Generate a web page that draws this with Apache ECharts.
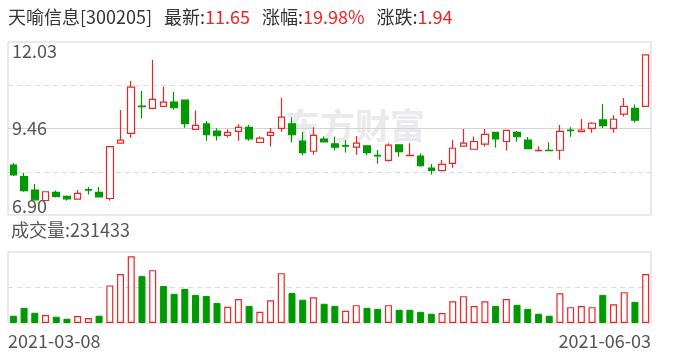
<!DOCTYPE html>
<html>
<head>
<meta charset="utf-8">
<script src="https://cdn.jsdelivr.net/npm/echarts@6/dist/echarts.min.js"></script>
<style>
html,body{margin:0;padding:0;background:#fff;}
#c{width:688px;height:360px;}
</style>
</head>
<body>
<div id="c"></div>
<script>
var stockName = '天喻信息';
var stockCode = '300205';

var dates = [
  '2021-03-08','2021-03-09','2021-03-10','2021-03-11','2021-03-12','2021-03-15','2021-03-16','2021-03-17','2021-03-18','2021-03-19',
  '2021-03-22','2021-03-23','2021-03-24','2021-03-25','2021-03-26','2021-03-29','2021-03-30','2021-03-31','2021-04-01','2021-04-02',
  '2021-04-06','2021-04-07','2021-04-08','2021-04-09','2021-04-12','2021-04-13','2021-04-14','2021-04-15','2021-04-16','2021-04-19',
  '2021-04-20','2021-04-21','2021-04-22','2021-04-23','2021-04-26','2021-04-27','2021-04-28','2021-04-29','2021-04-30','2021-05-06',
  '2021-05-07','2021-05-10','2021-05-11','2021-05-12','2021-05-13','2021-05-14','2021-05-17','2021-05-18','2021-05-19','2021-05-20',
  '2021-05-21','2021-05-24','2021-05-25','2021-05-26','2021-05-27','2021-05-28','2021-05-31','2021-06-01','2021-06-02','2021-06-03'
];

var opens  = [8.38,8.04,7.64,7.33,7.57,7.45,7.37,7.65,7.57,7.39, 9.03,9.32,10.13,10.06,10.12,10.25,10.31,9.44,9.60,9.39,
              9.26,9.38,9.50,9.05,9.26,9.47,9.60,9.09,8.79,9.15, 9.01,8.96,8.91,8.95,8.67,8.52,8.98,8.66,8.65,8.29,
              8.22,8.43,8.94,8.85,9.00,9.35,9.08,9.35,9.12,8.81, 8.82,8.82,9.42,9.37,9.47,9.72,9.47,9.89,10.06,10.12];
var closes = [8.09,7.62,7.35,7.59,7.45,7.38,7.54,7.64,7.44,8.93, 9.12,10.69,10.11,10.33,10.25,10.08,9.61,9.56,9.28,9.25,
              9.35,9.50,9.16,9.18,9.35,9.80,9.28,8.75,9.26,9.07, 8.91,8.94,9.03,8.75,8.65,8.97,8.78,8.67,8.36,8.22,
              8.40,8.88,9.03,9.08,9.29,9.16,9.41,9.22,8.87,8.82, 8.81,9.38,9.40,9.42,9.62,9.55,9.74,10.12,9.71,11.65];
var lows   = [8.06,7.59,7.33,7.33,7.42,7.33,7.37,7.51,7.44,7.33, 9.03,9.19,9.76,10.06,10.12,10.02,9.49,9.44,9.10,9.11,
              9.20,9.10,9.10,9.05,8.93,9.37,9.05,8.67,8.69,9.05, 8.81,8.75,8.69,8.67,8.42,8.49,8.63,8.66,8.33,8.10,
              8.19,8.30,8.94,8.85,8.93,8.90,8.81,9.07,8.87,8.78, 8.81,8.54,9.22,9.37,9.34,9.48,9.34,9.82,9.64,10.12];
var highs  = [8.44,8.15,7.82,7.59,7.63,7.48,7.64,7.73,7.73,8.93, 10.01,10.87,10.58,11.50,10.70,10.55,10.31,10.00,9.69,9.47,
              9.44,9.59,9.57,9.23,9.48,10.37,9.80,9.36,9.50,9.23, 9.23,9.12,9.24,8.97,8.83,9.03,8.98,9.03,8.72,8.41,
              8.53,9.12,9.45,9.23,9.45,9.35,9.41,9.39,9.21,8.94, 9.06,9.57,9.50,9.75,9.65,10.19,9.86,10.37,10.18,11.65];

var volumes = [34400,72000,48500,37600,29700,20300,32900,23500,34400,178000,
               232000,316000,222000,250000,175000,138000,161000,133000,128000,95000,
               77000,113000,81000,53000,108000,236000,142000,110000,122000,91000,
               81000,58000,84500,72000,67000,84500,62600,62600,53000,43800,
               47000,103000,127000,80000,103000,81000,113000,86000,67000,43800,
               34400,141000,75000,80000,75000,133000,89000,146000,100000,231433];

var priceMin = 6.90, priceMax = 12.03;
var priceLabelValues = [6.90, 9.465, 12.03];
var priceLabelTexts = ['6.90', '9.46', '12.03'];
var priceDashedLines = [8.1825, 10.7475];
var priceSolidLines = [9.465];
var volumeMax = 336000;
var volumeGridLines = [168000];

var RED = '#f02424', GREEN = '#009a00';
var FONT = '"Noto Sans CJK SC", "Microsoft YaHei", sans-serif';

var n = dates.length;
var kData = [];
for (var i = 0; i < n; i++) kData.push([opens[i], closes[i], lows[i], highs[i]]);

var volData = volumes.map(function (v, i) {
  var prev = i > 0 ? closes[i - 1] : opens[i];
  var up = closes[i] > prev;
  return {
    value: v,
    itemStyle: up ? { color: '#fff', borderColor: RED, borderWidth: 1.2 }
                  : { color: GREEN, borderColor: GREEN, borderWidth: 1 }
  };
});

var last = closes[n - 1], prevClose = closes[n - 2];
var chg = last - prevClose;
var pct = chg / prevClose * 100;

var chart = echarts.init(document.getElementById('c'), null, { renderer: 'canvas' });

var option = {
  animation: false,
  backgroundColor: '#fff',
  textStyle: { fontFamily: FONT },
  title: [
    {
      left: 8, top: 8, padding: 0,
      text: '{k|' + stockName + '[' + stockCode + ']}{s|}{k|最新:}{r|' + last.toFixed(2) + '}{s|}{k|涨幅:}{r|' + pct.toFixed(2) + '%}{s|}{k|涨跌:}{r|' + chg.toFixed(2) + '}',
      textStyle: {
        fontWeight: 'normal', fontSize: 18,
        rich: {
          k: { fontSize: 18, color: '#333', fontWeight: 'normal', fontFamily: FONT },
          r: { fontSize: 18, color: RED, fontWeight: 'normal', fontFamily: FONT },
          s: { width: 12 }
        }
      }
    },
    {
      left: 11, top: 221, padding: 0,
      text: '成交量:' + volumes[n - 1],
      textStyle: { fontSize: 18, color: '#555', fontWeight: 'normal', fontFamily: FONT }
    }
  ],
  graphic: [
    {
      type: 'text', left: 285, top: 108, z: 0, silent: true,
      style: { text: '东方财富', fontSize: 35, fontWeight: 'bold', fill: '#e9e9ee', fontFamily: FONT }
    }
  ],
  grid: [
    { left: 8, right: 37, top: 42, height: 173, show: true, borderColor: '#d4d4d4', borderWidth: 1, backgroundColor: 'transparent' },
    { left: 8, right: 37, top: 252, height: 71, show: true, borderColor: '#d4d4d4', borderWidth: 1, backgroundColor: 'transparent' }
  ],
  xAxis: [
    { type: 'category', gridIndex: 0, data: dates, boundaryGap: true,
      axisLine: { show: false }, axisTick: { show: false }, axisLabel: { show: false }, splitLine: { show: false } },
    { type: 'category', gridIndex: 1, data: dates, boundaryGap: true,
      axisLine: { show: false }, axisTick: { show: false }, axisLabel: { show: false }, splitLine: { show: false } },
    { type: 'value', gridIndex: 1, min: 0, max: 1, position: 'bottom',
      axisLine: { show: false }, axisTick: { show: false }, splitLine: { show: false },
      axisLabel: {
        show: true, customValues: [0, 1], margin: 9, fontSize: 18, color: '#555', fontFamily: FONT,
        alignMinLabel: 'left', alignMaxLabel: 'right',
        formatter: function (v) { return v === 0 ? dates[0] : dates[n - 1]; }
      } }
  ],
  yAxis: [
    { type: 'value', gridIndex: 0, min: priceMin, max: priceMax, scale: true,
      axisLine: { show: false },
      axisTick: { show: false, customValues: priceDashedLines },
      splitLine: { show: true, lineStyle: { color: '#dcdcdc', type: [5, 4], width: 1 } },
      axisLabel: {
        show: true, inside: true, margin: 4, fontSize: 18, color: '#555', fontFamily: FONT,
        customValues: priceLabelValues,
        verticalAlignMinLabel: 'bottom', verticalAlignMaxLabel: 'top',
        formatter: function (v) {
          for (var i = 0; i < priceLabelValues.length; i++) if (Math.abs(v - priceLabelValues[i]) < 1e-6) return priceLabelTexts[i];
          return '';
        }
      } },
    { type: 'value', gridIndex: 0, min: priceMin, max: priceMax, scale: true,
      axisLine: { show: false },
      axisTick: { show: false, customValues: priceSolidLines },
      axisLabel: { show: false },
      splitLine: { show: true, lineStyle: { color: '#d4d4d4', type: 'solid', width: 1 } } },
    { type: 'value', gridIndex: 1, min: 0, max: volumeMax,
      axisLine: { show: false },
      axisTick: { show: false, customValues: volumeGridLines },
      axisLabel: { show: false },
      splitLine: { show: true, lineStyle: { color: '#dcdcdc', type: [5, 4], width: 1 } } }
  ],
  series: [
    {
      type: 'candlestick', xAxisIndex: 0, yAxisIndex: 0, data: kData, barWidth: 7, z: 3,
      itemStyle: { color: '#fff', color0: GREEN, borderColor: RED, borderColor0: GREEN, borderWidth: 1.2 }
    },
    {
      type: 'bar', xAxisIndex: 1, yAxisIndex: 2, data: volData, barWidth: 7, z: 3
    }
  ]
};
chart.setOption(option);
</script>
</body>
</html>
